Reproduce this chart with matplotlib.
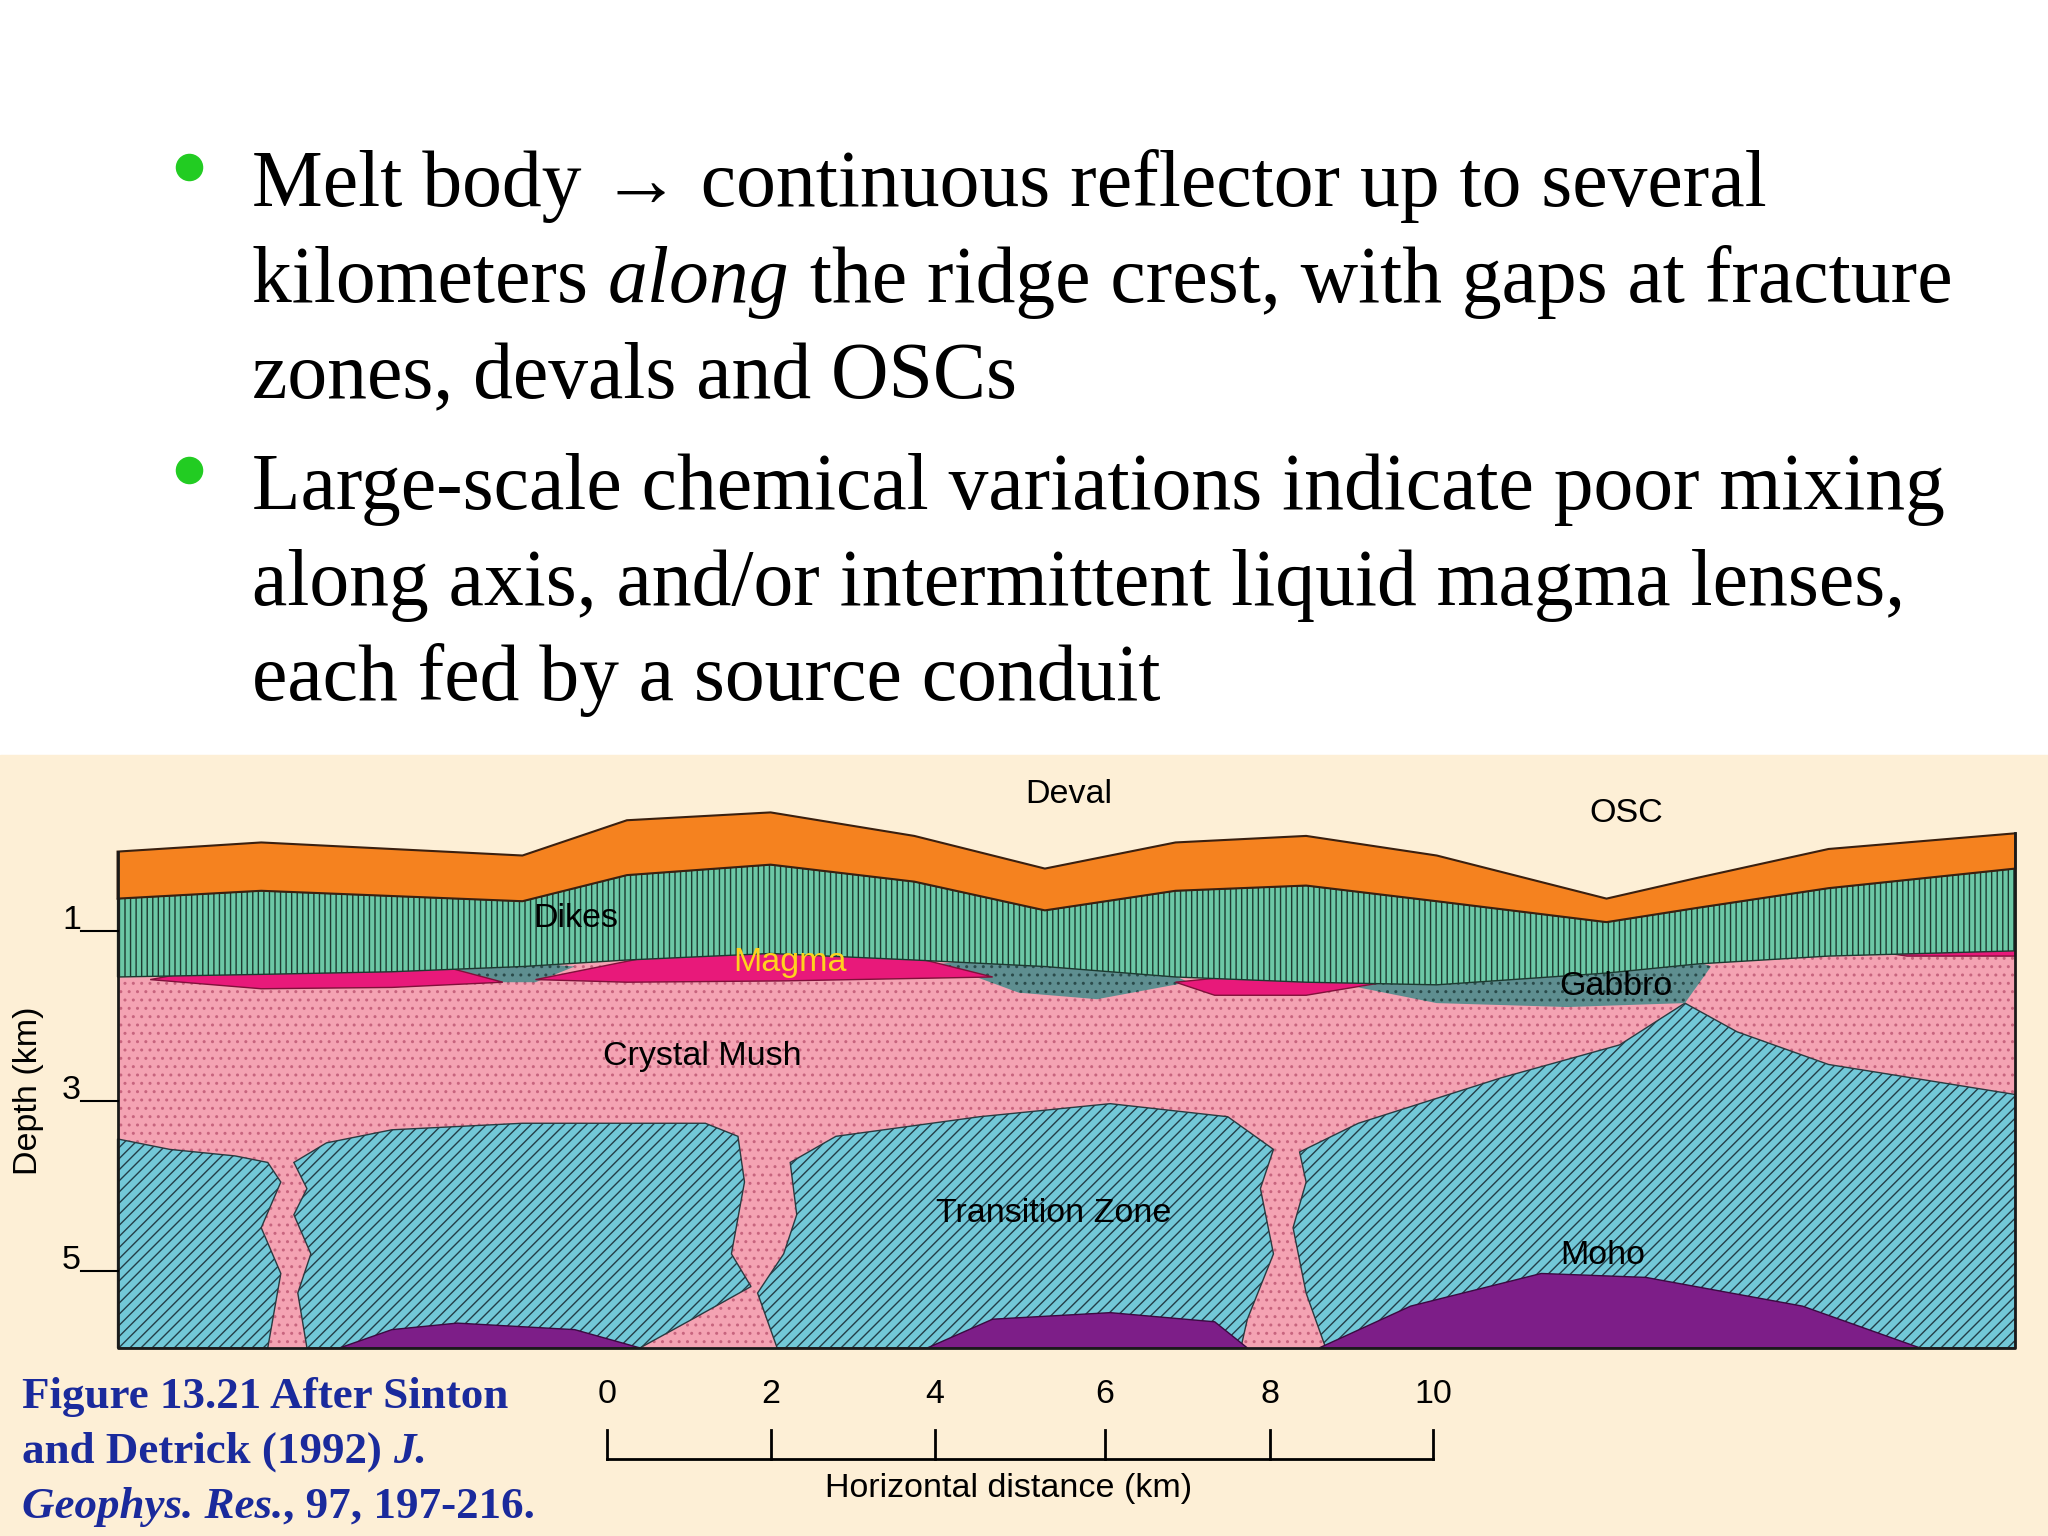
import matplotlib
matplotlib.use('Agg')
import matplotlib.pyplot as plt
from matplotlib.patches import Polygon, Rectangle

# reference picture is 1568 x 1176, output 2048 x 1536
W, H = 1568, 1176
K = 2048 / W * 72 / 100  # ref pixels -> points

SERIF = ['Liberation Serif', 'DejaVu Serif']
SANS = ['Liberation Sans', 'DejaVu Sans']

bullet_1 = [[('Melt body \u2192 continuous reflector up to several', 'normal')],
            [('kilometers ', 'normal'), ('along', 'italic'),
             (' the ridge crest, with gaps at fracture', 'normal')],
            [('zones, devals and OSCs', 'normal')]]
bullet_2 = [[('Large-scale chemical variations indicate poor mixing', 'normal')],
            [('along axis, and/or intermittent liquid magma lenses,', 'normal')],
            [('each fed by a source conduit', 'normal')]]

caption = [[('Figure 13.21 After Sinton', 'normal')],
           [('and Detrick (1992) ', 'normal'), ('J.', 'italic')],
           [('Geophys. Res.', 'italic'), (', 97, 197-216.', 'normal')]]

# layer boundaries along the section
xs = [90, 200, 300, 400, 480, 590, 700, 800, 900, 1000, 1100, 1230, 1300, 1400, 1543]
sea_top = [652, 645, 650, 655, 628, 622, 640, 665, 645, 640, 655, 688, 672, 650, 638]
orange_bot = [688, 682, 686, 690, 670, 662, 675, 697, 682, 678, 690, 706, 695, 680, 665]
dike_bot = [748, 746, 744, 740, 735, 730, 735, 740, 748, 752, 754, 745, 738, 732, 728]

magma = [
    [(115, 750), (180, 738), (260, 733), (340, 740), (385, 752), (300, 756), (200, 757)],
    [(410, 750), (500, 732), (600, 725), (700, 733), (760, 748), (600, 751), (480, 752)],
    [(900, 752), (980, 744), (1060, 752), (1000, 762), (930, 762)],
    [(1420, 726), (1480, 712), (1543, 710), (1543, 732), (1460, 732)],
]
gabbro = [
    [(330, 744), (380, 735), (440, 740), (410, 752), (360, 752)],
    [(720, 738), (800, 728), (880, 738), (910, 752), (840, 765), (780, 760)],
    [(1040, 756), (1150, 730), (1260, 722), (1310, 740), (1290, 768), (1200, 771), (1100, 768)],
]
transition = [
    [(90, 872), (130, 880), (180, 885), (205, 890), (215, 905), (200, 940), (215, 975),
     (205, 1032), (90, 1032)],
    [(225, 890), (250, 875), (300, 865), (400, 860), (540, 860), (565, 870), (570, 905),
     (560, 960), (575, 985), (530, 1010), (490, 1032), (235, 1032), (228, 990), (238, 960),
     (225, 930), (235, 910)],
    [(605, 890), (640, 870), (750, 855), (850, 845), (940, 855), (975, 880), (965, 910),
     (975, 960), (955, 1010), (950, 1032), (595, 1032), (580, 990), (600, 960), (610, 930)],
    [(995, 882), (1040, 860), (1150, 825), (1240, 800), (1290, 768), (1330, 790), (1400, 815),
     (1543, 838), (1543, 1032), (1015, 1032), (1000, 990), (990, 940), (1000, 905)],
]
moho = [
    [(260, 1032), (300, 1018), (350, 1013), (440, 1018), (490, 1032)],
    [(710, 1032), (760, 1010), (850, 1005), (930, 1012), (955, 1032)],
    [(1010, 1032), (1080, 1000), (1180, 975), (1260, 978), (1380, 1000), (1470, 1032)],
]

labels = [('Deval', 818, 608, 'k'), ('OSC', 1245, 623, 'k'), ('Dikes', 441, 703, 'k'),
          ('Magma', 605, 737, '#ffd21e'), ('Gabbro', 1237, 755, 'k'),
          ('Crystal Mush', 538, 809, 'k'), ('Transition Zone', 807, 929, 'k'),
          ('Moho', 1227, 961, 'k')]

depth_ticks = [1, 3, 5]
depth_y = [705, 835, 965]
km_ticks = [0, 2, 4, 6, 8, 10]
km_x = [465, 590, 716, 846, 972, 1097]


def rich_lines(ax, lines, x0, y0, dy, size, color, weight='normal'):
    r = ax.figure.canvas.get_renderer()
    inv = ax.transData.inverted()
    for i, parts in enumerate(lines):
        x = x0
        for txt, style in parts:
            t = ax.text(x, y0 + i * dy, txt, fontsize=size, family=SERIF, style=style,
                        weight=weight, color=color, va='baseline', ha='left')
            bb = t.get_window_extent(renderer=r)
            x = inv.transform((bb.x1, bb.y0))[0]


plt.rcParams['hatch.linewidth'] = 1.0
fig = plt.figure(figsize=(20.48, 15.36), dpi=100)
ax = fig.add_axes([0, 0, 1, 1])
ax.set_xlim(0, W)
ax.set_ylim(H, 0)
ax.axis('off')

# bullets
body = 61 * K
for by in [128, 360]:
    ax.plot(145, by, 'o', color='#22cc22', ms=20 * K)
rich_lines(ax, bullet_1, 193, 158, 73, body, 'k')
rich_lines(ax, bullet_2, 193, 390, 73, body, 'k')

# figure panel
ax.add_patch(Rectangle((0, 578), W, H - 578, color='#fdefd6', zorder=0))

ax.add_patch(Polygon([(90, 720), (1543, 720), (1543, 1032), (90, 1032)], closed=True,
                     facecolor='#f4a3b3', edgecolor='#c7647e', hatch='..', lw=0, zorder=1))
for poly in transition:
    ax.add_patch(Polygon(poly, closed=True, facecolor='#72c8d8', edgecolor='#233e48',
                         hatch='///', lw=0, zorder=2))
    ax.add_patch(Polygon(poly, closed=True, fill=False, edgecolor='#2a3a40', lw=1, zorder=2))
for poly in moho:
    ax.add_patch(Polygon(poly, closed=True, facecolor='#7d1e88', edgecolor='#3a0a40',
                         lw=1, zorder=3))
for poly in gabbro:
    ax.add_patch(Polygon(poly, closed=True, facecolor='#5e8e90', edgecolor='#2a4a4a',
                         hatch='..', lw=0, zorder=4))
for poly in magma:
    ax.add_patch(Polygon(poly, closed=True, facecolor='#e8197a', edgecolor='#80103a',
                         lw=1, zorder=5))

dikes = list(zip(xs, orange_bot)) + list(zip(xs[::-1], dike_bot[::-1]))
ax.add_patch(Polygon(dikes, closed=True, facecolor='#6cc8a6', edgecolor='#1c3a30',
                     hatch='|||', lw=0, zorder=6))
ax.add_patch(Polygon(dikes, closed=True, fill=False, edgecolor='#1c3a30', lw=1, zorder=6))
crust = list(zip(xs, sea_top)) + list(zip(xs[::-1], orange_bot[::-1]))
ax.add_patch(Polygon(crust, closed=True, facecolor='#f5821f', edgecolor='#3a2010',
                     lw=1.5, zorder=7))
ax.plot([90, 90, 1543, 1543], [sea_top[0], 1032, 1032, sea_top[-1]], color='#1a1a1a',
        lw=2, zorder=8)

lab = 26 * K
for txt, x, y, c in labels:
    ax.text(x, y, txt, fontsize=lab, family=SANS, color=c, ha='center', va='center',
            zorder=9)

for d, y in zip(depth_ticks, depth_y):
    ax.plot([62, 90], [y + 8, y + 8], color='k', lw=1.5, zorder=9)
    ax.text(62, y, str(d), fontsize=lab, family=SANS, ha='right', va='center')
ax.text(22, 835, 'Depth (km)', fontsize=lab, family=SANS, rotation=90,
        ha='center', va='center')

ax.plot([km_x[0], km_x[-1]], [1117, 1117], color='k', lw=2)
for v, x in zip(km_ticks, km_x):
    ax.plot([x, x], [1095, 1117], color='k', lw=2)
    ax.text(x, 1068, str(v), fontsize=lab, family=SANS, ha='center', va='center')
ax.text(772, 1140, 'Horizontal distance (km)', fontsize=lab, family=SANS,
        ha='center', va='center')

rich_lines(ax, caption, 17, 1078, 42, 34.5 * K, '#1a2a9c', weight='bold')

fig.savefig('out.png', dpi=100)
